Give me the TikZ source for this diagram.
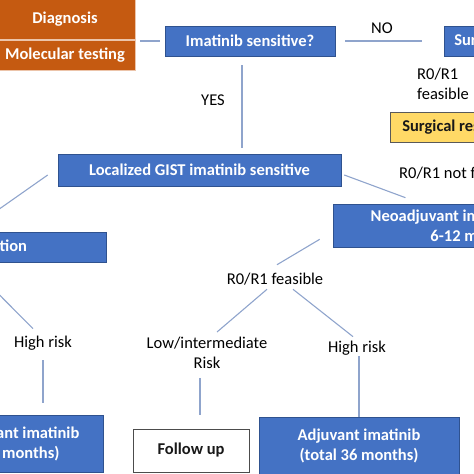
\documentclass[tikz,border=0pt]{standalone}
\usepackage{fontspec}
\setmainfont{Carlito}
\usetikzlibrary{positioning}
\usepackage{xcolor}
\definecolor{boxblue}{RGB}{68,114,196}
\definecolor{boxedge}{RGB}{47,82,143}
\definecolor{boxorange}{RGB}{197,90,17}
\definecolor{orangeedge}{RGB}{236,196,170}
\definecolor{boxyellow}{RGB}{255,217,102}
\definecolor{linkcolor}{RGB}{143,164,204}

\begin{document}
\begin{tikzpicture}[x=1pt, y=1pt]
  \tikzset{
    bluebox/.style={
      draw=boxedge,
      line width=0.6pt,
      fill=boxblue,
      text=white,
      inner sep=0pt,
      align=center,
      font=\fontsize{16.5}{20}\selectfont\bfseries
    },
    orangebox/.style={
      draw=orangeedge,
      line width=0.8pt,
      fill=boxorange,
      text=white,
      inner sep=0pt,
      minimum width=140pt,
      font=\fontsize{16.5}{20}\selectfont\bfseries
    },
    yellowbox/.style={
      draw=black!65,
      line width=0.6pt,
      fill=boxyellow,
      text=black!90,
      inner sep=0pt,
      font=\fontsize{16.5}{20}\selectfont\bfseries
    },
    plainbox/.style={
      draw=black!70,
      line width=0.6pt,
      fill=white,
      text=black!90,
      inner sep=0pt,
      font=\fontsize{16.5}{20}\selectfont\bfseries
    },
    label/.style={
      inner sep=0pt,
      align=center,
      text=black,
      font=\fontsize{16.5}{20}\selectfont
    },
    link/.style={
      draw=linkcolor,
      line width=1.1pt
    }
  }

  \useasboundingbox (0, 0) rectangle (474, -474);
  \clip (0, 0) rectangle (474, -474);

  % Diagnosis column
    \node[orangebox, minimum height=40pt] at (65, -19) (diag) {Diagnosis};
    \node[orangebox, minimum height=30pt] at (65, -55.5) (moltest) {Molecular testing};

  % First decision
    \node[bluebox, minimum width=170pt, minimum height=30pt] at (250, -41) (sens) {Imatinib sensitive?};
    \node[bluebox, anchor=west, inner xsep=10pt, minimum height=30pt] at (444, -41) (surgeval) {Surgical evaluation};
    \node[label] at (382, -28) (no) {NO};
    \node[label] at (213, -100) (yes) {YES};

  % Right branch
    \node[label, anchor=west, align=left] at (417, -84) (feasR) {R0/R1\\feasible};
    \node[yellowbox, anchor=west, inner xsep=12pt, minimum height=30pt] at (390, -127) (resectR) {Surgical resection};

  % Localized GIST
    \node[bluebox, minimum width=283pt, minimum height=32pt] at (199.5, -170) (local) {Localized GIST imatinib sensitive};
    \node[label, anchor=west] at (399, -173) (notfeas) {R0/R1 not feasible};
    \node[bluebox, minimum width=278pt, minimum height=30pt] at (-33, -247) (resectL) {Surgical resection};
    \node[bluebox, minimum width=281pt, minimum height=43pt] at (473.5, -225.5) (neo) {Neoadjuvant imatinib therapy\\6-12 months};

  % Risk labels
    \node[label] at (275, -279) (feasM) {R0/R1 feasible};
    \node[label] at (43, -343) (highL) {High risk};
    \node[label] at (207, -353) (lowM) {Low/intermediate\\Risk};
    \node[label] at (357, -348) (highM) {High risk};

  % Bottom row
    \node[bluebox, minimum width=170pt, minimum height=57pt] at (18, -443.5) (adjL) {Adjuvant imatinib\\(36 months)};
    \node[plainbox, minimum width=116pt, minimum height=43pt] at (191, -450.5) (follow) {Follow up};
    \node[bluebox, minimum width=200pt, minimum height=58pt] at (359, -446) (adjM) {Adjuvant imatinib\\(total 36 months)};

  % Connectors
    \draw[link, shorten <=5pt, shorten >=5pt] (sens.west) -- (sens.west -| moltest.east);
    \draw[link, shorten <=10pt, shorten >=22pt] (sens.east) -- (surgeval.west);
    \draw[link, shorten <=9pt, shorten >=6pt] ([xshift=-8pt]sens.south) -- ([xshift=-8pt]sens.south |- local.north);
    \draw[link, shorten >=8pt] ([shift={(-10pt,-5pt)}]local.west) -- (resectL.north);
    \draw[link] ([shift={(3pt,-5pt)}]local.east) -- ([shift={(-68pt,6pt)}]neo.north);
    \draw[link] ([shift={(-13pt,8pt)}]neo.south west) -- ([shift={(2pt,8pt)}]feasM.north);
    \draw[link] ([shift={(-8pt,-4pt)}]feasM.south) -- ([shift={(10pt,5pt)}]lowM.north);
    \draw[link] ([shift={(18pt,-4pt)}]feasM.south) -- ([shift={(-4pt,4pt)}]highM.north);
    \draw[link, shorten <=9pt, shorten >=14pt] ([xshift=-7pt]lowM.south) -- ([xshift=-7pt]lowM.south |- follow.north);
    \draw[link, shorten <=1pt] ([xshift=2pt]highM.south) -- ([xshift=2pt]highM.south |- adjM.north);
    \draw[link] ([shift={(8pt,-8pt)}]resectL.south) -- ([shift={(-10pt,7pt)}]highL.north);
    \draw[link, shorten <=10pt, shorten >=12pt] (highL.south) -- (highL.south |- adjL.north);

\end{tikzpicture}
\end{document}
